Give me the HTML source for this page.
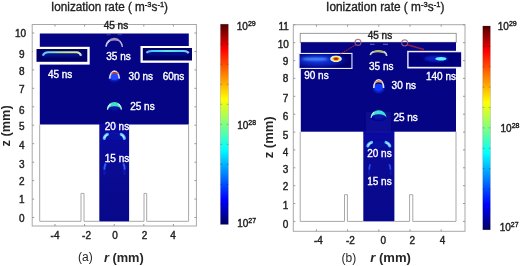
<!DOCTYPE html>
<html><head><meta charset="utf-8">
<style>
html,body{margin:0;padding:0;background:#fff;width:520px;height:266px;overflow:hidden}
svg{display:block}
text{font-family:"Liberation Sans",Arial,sans-serif}
.tl{font-size:10px;fill:#222;stroke:#222;stroke-width:0.4}
.ns{font-size:10px;fill:#fff;stroke:#fff;stroke-width:0.35}
.ttl{font-size:12.5px;fill:#222;stroke:#222;stroke-width:0.35}
.lab{fill:#262626}
</style></head><body>
<svg width="520" height="266" viewBox="0 0 520 266">
<defs>
<linearGradient id="jet" x1="0" y1="0" x2="0" y2="1">
<stop offset="0" stop-color="#500000"/>
<stop offset="0.125" stop-color="#ff0000"/>
<stop offset="0.375" stop-color="#ffff00"/>
<stop offset="0.625" stop-color="#00ffff"/>
<stop offset="0.875" stop-color="#0000ff"/>
<stop offset="1" stop-color="#000060"/>
</linearGradient>
<linearGradient id="chA" x1="0" y1="0" x2="0" y2="1">
<stop offset="0" stop-color="#0a0aa0"/>
<stop offset="0.5" stop-color="#0a0a92"/>
<stop offset="1" stop-color="#08088a"/>
</linearGradient>
<radialGradient id="glowB" cx="0.35" cy="0.45" r="0.6">
<stop offset="0" stop-color="#1a3cf0"/>
<stop offset="0.6" stop-color="#0a1cb0"/>
<stop offset="1" stop-color="#000070"/>
</radialGradient>
<radialGradient id="hot" cx="0.5" cy="0.5" r="0.5">
<stop offset="0" stop-color="#a01000"/>
<stop offset="0.3" stop-color="#d83800"/>
<stop offset="0.48" stop-color="#f8c000"/>
<stop offset="0.62" stop-color="#f0f0a0"/>
<stop offset="0.82" stop-color="#c8f0f0"/>
<stop offset="1" stop-color="#80c0ff" stop-opacity="0.3"/>
</radialGradient>
<linearGradient id="gA" gradientUnits="userSpaceOnUse" x1="42" y1="0" x2="82" y2="0">
<stop offset="0" stop-color="#70b8ff"/>
<stop offset="0.15" stop-color="#60d8e0"/>
<stop offset="0.45" stop-color="#a8e890"/>
<stop offset="0.8" stop-color="#d0ec80"/>
<stop offset="1" stop-color="#d8e8d0"/>
</linearGradient>
<linearGradient id="gB" gradientUnits="userSpaceOnUse" x1="146" y1="0" x2="189" y2="0">
<stop offset="0" stop-color="#70b0ff"/>
<stop offset="0.2" stop-color="#40d0f0"/>
<stop offset="0.5" stop-color="#60e8d8"/>
<stop offset="0.8" stop-color="#50d8f0"/>
<stop offset="1" stop-color="#90c8ff"/>
</linearGradient>
<filter id="b05" x="-50%" y="-50%" width="200%" height="200%"><feGaussianBlur stdDeviation="0.5"/></filter>
<filter id="b1" x="-50%" y="-50%" width="200%" height="200%"><feGaussianBlur stdDeviation="1"/></filter>
<filter id="b2" x="-50%" y="-50%" width="200%" height="200%"><feGaussianBlur stdDeviation="2"/></filter>
</defs>

<!-- ================= PANEL A ================= -->
<text class="ttl" x="51" y="10.6" textLength="117" lengthAdjust="spacingAndGlyphs">Ionization rate ( m<tspan font-size="8" dy="-4">-3</tspan><tspan dy="4">s</tspan><tspan font-size="8" dy="-4">-1</tspan><tspan dy="4">)</tspan></text>

<rect x="32.2" y="24.5" width="164.2" height="201.5" fill="none" stroke="#a8a8a8" stroke-width="1"/>
<path d="M55.0 226 v-2 M55.0 24.5 v2 M84.6 226 v-2 M84.6 24.5 v2 M114.2 226 v-2 M114.2 24.5 v2 M143.8 226 v-2 M143.8 24.5 v2 M173.4 226 v-2 M173.4 24.5 v2 M32.2 217.5 h2 M196.4 217.5 h-2 M32.2 199.1 h2 M196.4 199.1 h-2 M32.2 180.6 h2 M196.4 180.6 h-2 M32.2 162.2 h2 M196.4 162.2 h-2 M32.2 143.7 h2 M196.4 143.7 h-2 M32.2 125.2 h2 M196.4 125.2 h-2 M32.2 106.8 h2 M196.4 106.8 h-2 M32.2 88.3 h2 M196.4 88.3 h-2 M32.2 69.9 h2 M196.4 69.9 h-2 M32.2 51.5 h2 M196.4 51.5 h-2 M32.2 33.0 h2 M196.4 33.0 h-2" stroke="#909090" stroke-width="0.9"/>

<!-- blue domain -->
<rect x="39.8" y="33.5" width="149" height="91" fill="#040484"/>
<rect x="99.3" y="124" width="29.8" height="97.5" fill="url(#chA)"/>

<!-- geometry outline -->
<path d="M39.7 124.5 V221.3 H81 V193.4 H84 V221.3 H99.5 M129.1 221.3 H144 V193.4 H146.7 V221.3 H188.6 V124.5" fill="none" stroke="#a8a8a8" stroke-width="1"/>

<!-- insets a -->
<rect x="33" y="46.8" width="56.7" height="17.8" fill="#fff"/>
<rect x="36.5" y="49" width="50.8" height="12.8" fill="#000068"/>
<rect x="140.5" y="46" width="53.8" height="16.8" fill="#fff"/>
<rect x="142.8" y="48" width="49.2" height="12.5" fill="#000068"/>
<!-- inset curves -->
<rect x="41" y="53" width="42" height="4" fill="#0a20c0" opacity="0.45" filter="url(#b1)"/>
<rect x="147" y="52" width="41" height="3.5" fill="#0a20c0" opacity="0.45" filter="url(#b1)"/>
<g filter="url(#b05)">
<path d="M42.8 55.6 Q44.2 52.3 48 52.3 L76.5 52.3 Q80.2 52.4 81 55.8" fill="none" stroke="url(#gA)" stroke-width="2"/>
<path d="M146.4 52.8 Q147.8 51.2 152 51.1 L184 51.1 Q187.6 51.2 188.6 53.2" fill="none" stroke="url(#gB)" stroke-width="2"/>
</g>
<!-- heads a -->
<g filter="url(#b05)">
<!-- 45 ns top bits -->
<path d="M106.5 34.6 H110.5 M117.5 34.6 H122" stroke="#5070c8" stroke-width="1.2" opacity="0.45"/>
<!-- 35 ns crescent -->
<path d="M105.6 46.8 A8.6 9.4 0 0 1 122.8 47.4 A8.4 6.5 0 0 0 105.6 46.8 Z" fill="#a494bc"/>
<path d="M106 46.6 A8.6 9.4 0 0 1 109.5 40.5" fill="none" stroke="#c8d0f8" stroke-width="1.6"/>
<path d="M122.4 47 A8.6 9.4 0 0 0 120 41.5" fill="none" stroke="#b8b8e0" stroke-width="1.3"/>
<!-- 30 ns dome -->
<ellipse cx="114.4" cy="78.3" rx="5.5" ry="3.2" fill="#1028d0" filter="url(#b1)"/>
<ellipse cx="114.4" cy="76.6" rx="4.6" ry="3.4" fill="#2048ff"/>
<path d="M109.6 78.6 A4.9 8.8 0 0 1 119.3 78.6" fill="none" stroke="#e0d8f0" stroke-width="1.7"/>
<path d="M111.6 73.4 Q115 72.2 118.6 73.4" fill="none" stroke="#f04818" stroke-width="1.3"/>
<!-- 25 ns crescent -->
<ellipse cx="114.4" cy="108.2" rx="5.5" ry="2.5" fill="#1020c0" opacity="0.55" filter="url(#b1)"/>
<path d="M107.2 110 A7.25 8 0 0 1 121.7 110 A7.1 3.6 0 0 0 107.2 110 Z" fill="#40e0c8"/>
<path d="M107.5 109.6 A7.25 8 0 0 1 110.6 103.8" fill="none" stroke="#d8f8ff" stroke-width="1.4"/>
<path d="M121.4 109.6 A7.25 8 0 0 0 118.3 103.8" fill="none" stroke="#c8f8e8" stroke-width="1.3"/>
<!-- 20 ns spots -->
<path d="M107 134.5 Q114 131.5 121.5 134.5" fill="none" stroke="#1020b0" stroke-width="1.2" opacity="0.7"/>
<ellipse cx="114.3" cy="137" rx="9" ry="4" fill="#1018a8" opacity="0.35" filter="url(#b1)"/>
<path d="M104.2 138.4 Q104.8 135.3 107.4 134.4" fill="none" stroke="#60c0ff" stroke-width="3" stroke-linecap="round"/>
<path d="M124.4 138.4 Q123.8 135.3 121.2 134.4" fill="none" stroke="#60c0ff" stroke-width="3" stroke-linecap="round"/>
<path d="M104.6 137.6 Q105.2 135.6 107 134.9" fill="none" stroke="#c0f0ff" stroke-width="1.2" stroke-linecap="round"/>
<path d="M124 137.6 Q123.4 135.6 121.6 134.9" fill="none" stroke="#c0f0ff" stroke-width="1.2" stroke-linecap="round"/>
<!-- 15 ns spots -->
<path d="M104.6 175 Q104 168 106.5 163.5 M124.4 175 Q125 168 122.5 163.5" fill="none" stroke="#1420c0" stroke-width="2.2" opacity="0.6"/>
<path d="M104.4 169.5 Q104.3 166 105.6 163.5 M124.7 169.5 Q124.8 166 123.5 163.5" fill="none" stroke="#3060f8" stroke-width="1.8"/>
</g>

<!-- y tick labels -->
<g class="tl" text-anchor="end">
<text x="26.2" y="36.8">10</text>
<text x="24.6" y="57.6">9</text>
<text x="24.6" y="74.7">8</text>
<text x="24.6" y="93.4">7</text>
<text x="24.6" y="113.9">6</text>
<text x="24.6" y="129.9">5</text>
<text x="24.6" y="148.6">4</text>
<text x="24.6" y="167.8">3</text>
<text x="24.6" y="184.5">2</text>
<text x="24.6" y="202.8">1</text>
<text x="24.6" y="221.9">0</text>
</g>
<g class="tl" text-anchor="middle">
<text x="55" y="239.2">-4</text>
<text x="86.5" y="239.2">-2</text>
<text x="115" y="239.2">0</text>
<text x="144.6" y="239.2">2</text>
<text x="173.1" y="239.2">4</text>
</g>

<text x="78.1" y="261.4" class="lab" font-size="12">(a)</text>
<text x="103.9" y="261.5" class="lab" font-size="12.8" font-weight="bold"><tspan font-style="italic">r</tspan> (mm)</text>
<text transform="translate(10.1,125.9) rotate(-90)" text-anchor="middle" class="lab" font-size="12.8" font-weight="bold">z (mm)</text>

<rect x="220.5" y="24.2" width="7.8" height="200.2" fill="url(#jet)" stroke="#000" stroke-opacity="0.25" stroke-width="0.6"/>
<path d="M220.5 44.2 h1.5 M228.3 44.2 h-1.5 M220.5 64.2 h1.5 M228.3 64.2 h-1.5 M220.5 84.3 h1.5 M228.3 84.3 h-1.5 M220.5 104.3 h1.5 M228.3 104.3 h-1.5 M220.5 124.3 h1.5 M228.3 124.3 h-1.5 M220.5 144.3 h1.5 M228.3 144.3 h-1.5 M220.5 164.3 h1.5 M228.3 164.3 h-1.5 M220.5 184.4 h1.5 M228.3 184.4 h-1.5 M220.5 204.4 h1.5 M228.3 204.4 h-1.5" stroke="#000" stroke-opacity="0.35" stroke-width="0.8"/>
<g class="tl">
<text x="236.8" y="29.8">10<tspan font-size="7" dy="-4">29</tspan></text>
<text x="237.2" y="128.8">10<tspan font-size="7" dy="-4">28</tspan></text>
<text x="237.2" y="226.5">10<tspan font-size="7" dy="-4">27</tspan></text>
</g>

<text x="103.7" y="28.9" class="tl">45 ns</text>
<g class="ns">
<text x="106.3" y="59.5">35 ns</text>
<text x="47.9" y="78">45 ns</text>
<text x="162.7" y="79.8">60ns</text>
<text x="128.6" y="79.6">30 ns</text>
<text x="130.2" y="110">25 ns</text>
<text x="104.7" y="130">20 ns</text>
<text x="104.8" y="161.8">15 ns</text>
</g>

<!-- ================= PANEL B ================= -->
<text class="ttl" x="326.1" y="10.6" textLength="118.3" lengthAdjust="spacingAndGlyphs">Ionization rate ( m<tspan font-size="8" dy="-4">-3</tspan><tspan dy="4">s</tspan><tspan font-size="8" dy="-4">-1</tspan><tspan dy="4">)</tspan></text>

<rect x="293.3" y="24.7" width="171.7" height="206.6" fill="none" stroke="#a8a8a8" stroke-width="1"/>
<path d="M316.4 231.3 v-2 M316.4 24.7 v2 M347.6 231.3 v-2 M347.6 24.7 v2 M378.8 231.3 v-2 M378.8 24.7 v2 M410.0 231.3 v-2 M410.0 24.7 v2 M441.2 231.3 v-2 M441.2 24.7 v2 M293.3 221.4 h2 M465 221.4 h-2 M293.3 203.5 h2 M465 203.5 h-2 M293.3 185.7 h2 M465 185.7 h-2 M293.3 167.8 h2 M465 167.8 h-2 M293.3 149.9 h2 M465 149.9 h-2 M293.3 132.1 h2 M465 132.1 h-2 M293.3 114.2 h2 M465 114.2 h-2 M293.3 96.3 h2 M465 96.3 h-2 M293.3 78.4 h2 M465 78.4 h-2 M293.3 60.6 h2 M465 60.6 h-2 M293.3 42.7 h2 M465 42.7 h-2 M293.3 24.8 h2 M465 24.8 h-2" stroke="#909090" stroke-width="0.9"/>

<rect x="300.2" y="33.3" width="156" height="9" fill="#fff" stroke="#808080" stroke-width="0.8"/>
<rect x="300.8" y="42.3" width="155.2" height="89.4" fill="#040484"/>
<rect x="363.3" y="131" width="31.1" height="90.4" fill="url(#chA)"/>

<path d="M300.2 131.7 V221.4 H344.5 V194.7 H347.4 V221.4 H363.3 M394.4 221.4 H409.6 V194.7 H412.8 V221.4 H456 V131.7" fill="none" stroke="#a8a8a8" stroke-width="1"/>

<!-- insets b -->
<rect x="298.5" y="52.9" width="54" height="16.1" fill="#e8e8ff"/>
<rect x="299.6" y="54" width="51.8" height="13.9" fill="url(#glowB)"/>
<rect x="407.2" y="50.8" width="55" height="17.7" fill="#eeeeff"/>
<rect x="408.6" y="52.3" width="52.5" height="14.5" fill="#00007c"/>
<g filter="url(#b1)">
<ellipse cx="315" cy="59" rx="13" ry="1.3" fill="#50a0ff"/>
<ellipse cx="436" cy="58.7" rx="12" ry="3" fill="#1030e0" opacity="0.7"/>
</g>
<ellipse cx="336" cy="58.8" rx="6.3" ry="3.6" fill="url(#hot)" filter="url(#b05)"/>
<ellipse cx="440.9" cy="58.7" rx="5.6" ry="1.8" fill="#60f0ff" filter="url(#b05)"/>

<!-- heads b -->
<g filter="url(#b05)">
<path d="M370 44.4 H374.5 M383 44.4 H388" stroke="#6080e0" stroke-width="1.2" opacity="0.7"/>
<path d="M369.8 55.2 A8.6 5.6 0 0 1 387 56.2 A8.3 3.2 0 0 0 369.8 55.2 Z" fill="#b8bc70"/>
<path d="M370.2 55 A8.6 5.6 0 0 1 373.5 51.3" fill="none" stroke="#d0d0e8" stroke-width="1.5"/>
<path d="M386.6 56 A8.6 5.6 0 0 0 383.6 51.4" fill="none" stroke="#d0d0e8" stroke-width="1.5"/>
<ellipse cx="378.7" cy="89" rx="5.5" ry="4" fill="#1028d0" filter="url(#b1)"/>
<ellipse cx="378.7" cy="87.3" rx="4.7" ry="3.6" fill="#1038ff"/>
<path d="M373.8 88 A4.9 8.2 0 0 1 383.6 88" fill="none" stroke="#e8e0f0" stroke-width="1.6"/>
<path d="M375.3 82.4 Q378.7 80.8 382.2 82.4" fill="none" stroke="#f0a030" stroke-width="1.5"/>
<rect x="366" y="112" width="25" height="21" fill="#0c0ca0" opacity="0.6" filter="url(#b2)"/>
<ellipse cx="378.7" cy="116.5" rx="5.5" ry="2.5" fill="#1020c0" opacity="0.5" filter="url(#b1)"/>
<path d="M370.8 118.2 A7.9 8 0 0 1 386.6 118.2 A7.7 3.8 0 0 0 370.8 118.2 Z" fill="#40e0d8"/>
<path d="M371.1 117.8 A7.9 8 0 0 1 374.2 112" fill="none" stroke="#c0f0d8" stroke-width="1.3"/>
<ellipse cx="378.7" cy="144.5" rx="10" ry="4" fill="#1018a8" opacity="0.35" filter="url(#b1)"/>
<path d="M367.8 146 Q368.6 143.2 371.6 142.4" fill="none" stroke="#60c0ff" stroke-width="3" stroke-linecap="round"/>
<path d="M389.8 146 Q389 143.2 386 142.4" fill="none" stroke="#60c0ff" stroke-width="3" stroke-linecap="round"/>
<path d="M368.3 145.3 Q369 143.6 371 143" fill="none" stroke="#c0f0ff" stroke-width="1.2" stroke-linecap="round"/>
<path d="M389.3 145.3 Q388.6 143.6 386.6 143" fill="none" stroke="#c0f0ff" stroke-width="1.2" stroke-linecap="round"/>
<path d="M369 175 Q368.6 168 370.5 164 M390.6 175 Q391 168 389 164" fill="none" stroke="#1420c0" stroke-width="2" opacity="0.5"/>
<path d="M369.3 169.5 Q369.2 166.5 370.3 164.3 M390.4 169.5 Q390.5 166.5 389.3 164.3" fill="none" stroke="#2850f0" stroke-width="1.6"/>
</g>

<g class="tl" text-anchor="end">
<text x="288.8" y="30.1">11</text>
<text x="288.8" y="47.9">10</text>
<text x="288.3" y="65.0">9</text>
<text x="288.3" y="82.0">8</text>
<text x="288.3" y="101.5">7</text>
<text x="288.3" y="120.0">6</text>
<text x="288.3" y="138.6">5</text>
<text x="288.3" y="156.2">4</text>
<text x="288.3" y="173.1">3</text>
<text x="288.3" y="190.0">2</text>
<text x="288.3" y="209.4">1</text>
<text x="288.3" y="228.1">0</text>
</g>
<g class="tl" text-anchor="middle">
<text x="318.4" y="244.3">-4</text>
<text x="350.4" y="244.3">-2</text>
<text x="383.2" y="244.3">0</text>
<text x="412.2" y="244.3">2</text>
<text x="442.5" y="244.3">4</text>
</g>
<text x="341.6" y="261.6" class="lab" font-size="12">(b)</text>
<text x="370.2" y="261.8" class="lab" font-size="13.1" font-weight="bold"><tspan font-style="italic">r</tspan> (mm)</text>
<text transform="translate(272.6,137.3) rotate(-90)" text-anchor="middle" class="lab" font-size="13" font-weight="bold">z (mm)</text>

<rect x="482.8" y="26" width="7.5" height="203.8" fill="url(#jet)" stroke="#000" stroke-opacity="0.25" stroke-width="0.6"/>
<path d="M482.8 46.4 h1.5 M490.3 46.4 h-1.5 M482.8 66.8 h1.5 M490.3 66.8 h-1.5 M482.8 87.1 h1.5 M490.3 87.1 h-1.5 M482.8 107.5 h1.5 M490.3 107.5 h-1.5 M482.8 127.9 h1.5 M490.3 127.9 h-1.5 M482.8 148.3 h1.5 M490.3 148.3 h-1.5 M482.8 168.7 h1.5 M490.3 168.7 h-1.5 M482.8 189.0 h1.5 M490.3 189.0 h-1.5 M482.8 209.4 h1.5 M490.3 209.4 h-1.5" stroke="#000" stroke-opacity="0.35" stroke-width="0.8"/>
<g class="tl">
<text x="497.8" y="30.4">10<tspan font-size="7" dy="-4">29</tspan></text>
<text x="500.5" y="131.7">10<tspan font-size="7" dy="-4">28</tspan></text>
<text x="499.7" y="231.1">10<tspan font-size="7" dy="-4">27</tspan></text>
</g>

<text x="367.7" y="38.7" class="tl">45 ns</text>
<g class="ns">
<text x="304.2" y="79.1">90 ns</text>
<text x="426" y="79.5">140 ns</text>
<text x="369" y="70.1">35 ns</text>
<text x="391.6" y="88.5">30 ns</text>
<text x="393.4" y="120.9">25 ns</text>
<text x="367.2" y="156.8">20 ns</text>
<text x="367.2" y="185">15 ns</text>
</g>

<g filter="url(#b05)">
<circle cx="358" cy="42.4" r="3" fill="none" stroke="#a06080" stroke-width="1.1" opacity="0.85"/>
<circle cx="404.7" cy="42.9" r="3" fill="none" stroke="#a06080" stroke-width="1.1" opacity="0.85"/>
<path d="M355.8 44.8 L339.5 54.5" stroke="#c02828" stroke-width="1.1" fill="none" stroke-dasharray="1.6 0.8" opacity="0.8"/>
<path d="M407.2 44.8 L424 49.5" stroke="#c02828" stroke-width="1.5" fill="none" opacity="0.75"/>
</g>
</svg>
</body></html>
